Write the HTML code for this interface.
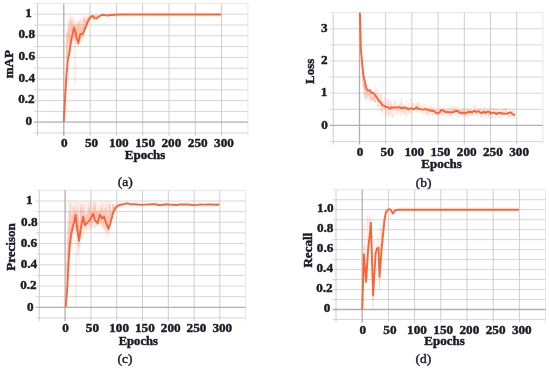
<!DOCTYPE html>
<html><head><meta charset="utf-8"><title>Training curves</title>
<style>
html,body{margin:0;padding:0;background:#fff;}
body{width:550px;height:369px;overflow:hidden;}
svg{display:block;filter:blur(0.3px);}
</style></head>
<body>
<svg width="550" height="369" viewBox="0 0 550 369">
<rect width="550" height="369" fill="#fff"/>
<line x1="34.00" y1="133.00" x2="247.90" y2="133.00" stroke="#d6d6d6" stroke-width="1"/>
<line x1="34.00" y1="111.40" x2="247.90" y2="111.40" stroke="#d6d6d6" stroke-width="1"/>
<line x1="34.00" y1="100.60" x2="247.90" y2="100.60" stroke="#d6d6d6" stroke-width="1"/>
<line x1="34.00" y1="89.80" x2="247.90" y2="89.80" stroke="#d6d6d6" stroke-width="1"/>
<line x1="34.00" y1="79.00" x2="247.90" y2="79.00" stroke="#d6d6d6" stroke-width="1"/>
<line x1="34.00" y1="68.20" x2="247.90" y2="68.20" stroke="#d6d6d6" stroke-width="1"/>
<line x1="34.00" y1="57.40" x2="247.90" y2="57.40" stroke="#d6d6d6" stroke-width="1"/>
<line x1="34.00" y1="46.60" x2="247.90" y2="46.60" stroke="#d6d6d6" stroke-width="1"/>
<line x1="34.00" y1="35.80" x2="247.90" y2="35.80" stroke="#d6d6d6" stroke-width="1"/>
<line x1="34.00" y1="25.00" x2="247.90" y2="25.00" stroke="#d6d6d6" stroke-width="1"/>
<line x1="34.00" y1="14.20" x2="247.90" y2="14.20" stroke="#d6d6d6" stroke-width="1"/>
<line x1="34.00" y1="3.40" x2="247.90" y2="3.40" stroke="#e6e6e6" stroke-width="1"/>
<line x1="37.50" y1="3.40" x2="37.50" y2="136.00" stroke="#cecece" stroke-width="1"/>
<line x1="90.10" y1="3.40" x2="90.10" y2="136.00" stroke="#cecece" stroke-width="1"/>
<line x1="116.40" y1="3.40" x2="116.40" y2="136.00" stroke="#cecece" stroke-width="1"/>
<line x1="142.70" y1="3.40" x2="142.70" y2="136.00" stroke="#cecece" stroke-width="1"/>
<line x1="169.00" y1="3.40" x2="169.00" y2="136.00" stroke="#cecece" stroke-width="1"/>
<line x1="195.30" y1="3.40" x2="195.30" y2="136.00" stroke="#cecece" stroke-width="1"/>
<line x1="221.60" y1="3.40" x2="221.60" y2="136.00" stroke="#cecece" stroke-width="1"/>
<line x1="247.90" y1="3.40" x2="247.90" y2="136.00" stroke="#e6e6e6" stroke-width="1"/>
<line x1="34.00" y1="122.20" x2="247.90" y2="122.20" stroke="#b0b0b0" stroke-width="1.3"/>
<line x1="63.80" y1="3.40" x2="63.80" y2="136.00" stroke="#b0b0b0" stroke-width="1.3"/>
<polygon points="66.0,36.0 68.5,17.0 69.0,16.0 73.3,16.0 73.8,20.5 79.2,20.5 80.0,19.0 85.0,15.5 95.0,14.8 101.0,14.8 101.0,17.0 92.0,19.0 88.0,24.0 86.0,30.0 84.0,36.0 80.0,44.0 78.0,48.0 76.0,46.0 74.0,40.0 73.3,42.0 72.0,45.0 70.0,50.0 69.0,56.0 68.0,60.0 66.0,75.0" fill="rgba(249,140,110,0.12)" stroke="none"/>
<polyline points="63.8,121.9 64.1,117.0 64.3,112.1 64.6,107.2 64.9,102.2 65.1,97.4 65.4,79.4 65.6,98.2 65.9,77.7 66.2,69.6 66.4,32.8 66.7,61.5 67.0,31.6 67.2,57.5 67.5,31.1 67.7,59.3 68.0,27.2 68.3,43.2 68.5,25.7 68.8,43.3 69.1,21.9 69.3,53.0 69.6,20.0 69.8,41.6 70.1,26.6 70.4,48.6 70.6,18.0 70.9,41.0 71.2,19.9 71.4,34.4 71.7,19.8 72.0,33.0 72.2,23.8 72.5,33.8 72.7,22.8 73.0,31.4 73.3,17.4 73.5,40.3 73.8,28.3 74.1,38.3 74.3,20.8 74.6,37.6 74.8,24.2 75.1,40.2 75.4,25.7 75.6,40.7 75.9,27.9 76.2,39.4 76.4,25.4 76.7,36.0 77.0,24.3 77.2,36.0 77.5,22.2 77.7,35.6 78.0,24.6 78.3,45.5 78.5,22.2 78.8,35.2 79.1,21.6 79.3,38.9 79.6,23.0 79.8,41.9 80.1,20.8 80.4,36.9 80.6,26.3 80.9,41.5 81.2,19.7 81.4,30.8 81.7,27.2 81.9,32.0 82.2,23.3 82.5,37.6 82.7,23.9 83.0,30.7 83.3,17.9 83.5,36.5 83.8,19.8 84.1,35.4 84.3,18.4 84.6,31.5 84.8,16.6 85.1,25.1 85.4,19.1 85.6,24.1 85.9,20.1 86.2,29.0 86.4,17.8 86.7,27.8 86.9,19.6 87.2,24.4 87.5,17.1 87.7,24.1 88.0,19.0 88.3,20.4 88.5,17.8 88.8,19.7 89.0,15.6 89.3,21.1 89.6,16.8 89.8,20.2 90.1,16.1 90.4,19.5 90.6,16.2 90.9,18.9 91.2,15.2 91.4,18.7 91.7,16.2 91.9,17.8 92.2,16.4 92.5,18.4 92.7,15.0 93.0,17.9 93.3,15.7 93.5,18.6 93.8,15.9 94.0,17.6 94.3,16.5 94.6,17.4 94.8,15.4 95.1,18.2 95.4,15.4 95.6,17.5 95.9,15.3 96.1,17.6 96.4,15.2 96.7,16.9 96.9,16.2 97.2,17.8 97.5,15.2 97.7,16.5 98.0,15.8 98.3,17.0 98.5,15.3 98.8,17.1 99.0,15.6 99.3,17.0 99.6,15.5 99.8,16.6 100.1,15.6 100.4,16.7 100.6,15.0 100.9,17.0 101.1,15.3 101.4,15.4 101.7,14.7 101.9,14.5 102.2,15.4 102.5,14.5 102.7,14.5 103.0,14.8 103.2,15.2 103.5,14.5 103.8,14.5 104.0,14.5 104.3,15.4 104.6,14.8 104.8,15.6 105.1,14.5 105.4,14.9 105.6,15.5 105.9,15.9 106.1,15.3 106.4,15.0 106.7,14.9 106.9,15.6 107.2,15.1 107.5,16.0 107.7,16.0 108.0,14.9 108.2,15.0 108.5,15.8 108.8,15.5 109.0,15.7 109.3,14.9 109.6,14.5 109.8,14.7 110.1,15.5 110.4,14.6 110.6,14.7 110.9,14.8 111.1,14.8 111.4,14.8 111.7,15.6 111.9,14.5 112.2,14.5 112.5,15.6 112.7,15.5 113.0,15.6 113.2,14.8 113.5,15.6 113.8,15.5 114.0,14.5 114.3,15.2 114.6,15.3 114.8,15.0 115.1,14.8 115.3,14.5 115.6,14.5 115.9,14.5 116.1,14.5 116.4,14.8 116.7,14.5 116.9,15.2 117.2,14.5 117.5,15.3 117.7,14.9 118.0,15.3 118.2,15.2 118.5,15.2 118.8,14.7 119.0,14.5 119.3,14.9 119.6,14.5 119.8,14.5 120.1,14.8 120.3,14.5 120.6,14.5 120.9,15.2 121.1,14.7 121.4,14.5 121.7,14.5 121.9,15.1 122.2,14.5 122.4,15.0 122.7,14.5 123.0,14.5 123.2,14.6 123.5,15.0 123.8,14.5 124.0,15.0 124.3,15.2 124.6,15.0 124.8,15.0 125.1,14.5 125.3,14.7 125.6,15.1 125.9,14.5 126.1,14.5 126.4,14.5 126.7,14.5 126.9,14.5 127.2,14.5 127.4,14.9 127.7,14.5 128.0,14.5 128.2,14.5 128.5,14.5 128.8,14.5 129.0,15.3 129.3,15.1 129.6,14.5 129.8,14.5 130.1,14.5 130.3,14.5 130.6,14.5 130.9,14.7 131.1,14.6 131.4,14.5 131.7,14.5 131.9,14.5 132.2,14.5 132.4,14.6 132.7,14.8 133.0,14.5 133.2,14.5 133.5,14.5 133.8,14.5 134.0,14.7 134.3,15.0 134.5,14.5 134.8,15.0 135.1,14.7 135.3,14.5 135.6,14.5 135.9,14.5 136.1,14.8 136.4,14.5 136.7,14.8 136.9,14.5 137.2,14.5 137.4,14.6 137.7,14.8 138.0,14.5 138.2,14.5 138.5,14.5 138.8,15.1 139.0,15.2 139.3,14.5 139.5,15.1 139.8,15.0 140.1,14.5 140.3,14.5 140.6,14.5 140.9,15.0 141.1,14.8 141.4,15.1 141.6,15.0 141.9,14.8 142.2,14.9 142.4,14.6 142.7,14.5 143.0,14.6 143.2,14.5 143.5,14.5 143.8,14.9 144.0,14.5 144.3,14.5 144.5,14.5 144.8,15.1 145.1,14.5 145.3,14.5 145.6,15.0 145.9,14.5 146.1,15.1 146.4,14.8 146.6,15.0 146.9,15.2 147.2,14.6 147.4,15.0 147.7,14.5 148.0,14.9 148.2,14.5 148.5,14.8 148.7,14.5 149.0,14.9 149.3,15.2 149.5,14.5 149.8,14.5 150.1,14.6 150.3,15.0 150.6,14.5 150.9,14.5 151.1,14.5 151.4,14.7 151.6,14.9 151.9,14.5 152.2,14.5 152.4,14.5 152.7,14.5 153.0,14.5 153.2,14.5 153.5,14.5 153.7,15.3 154.0,14.5 154.3,14.9 154.5,14.5 154.8,14.8 155.1,14.9 155.3,14.8 155.6,14.5 155.8,14.5 156.1,14.7 156.4,15.1 156.6,14.5 156.9,14.5 157.2,14.9 157.4,15.2 157.7,14.5 158.0,14.5 158.2,14.9 158.5,14.5 158.7,14.5 159.0,14.5 159.3,14.6 159.5,14.5 159.8,14.5 160.1,14.8 160.3,15.2 160.6,14.5 160.8,14.8 161.1,14.5 161.4,15.1 161.6,14.6 161.9,14.5 162.2,14.5 162.4,14.5 162.7,14.5 163.0,14.5 163.2,14.5 163.5,14.5 163.7,14.5 164.0,14.9 164.3,14.5 164.5,15.3 164.8,14.5 165.1,14.7 165.3,14.5 165.6,15.0 165.8,15.0 166.1,14.6 166.4,14.5 166.6,14.9 166.9,15.1 167.2,14.5 167.4,14.9 167.7,15.2 167.9,14.5 168.2,14.5 168.5,14.5 168.7,14.8 169.0,14.8 169.3,15.2 169.5,15.1 169.8,14.5 170.1,14.5 170.3,14.5 170.6,14.5 170.8,14.8 171.1,15.1 171.4,15.1 171.6,14.5 171.9,15.1 172.2,14.5 172.4,14.5 172.7,14.9 172.9,14.5 173.2,14.5 173.5,15.0 173.7,14.5 174.0,14.5 174.3,14.6 174.5,14.8 174.8,14.5 175.0,14.5 175.3,14.5 175.6,14.5 175.8,14.5 176.1,14.6 176.4,15.2 176.6,14.5 176.9,14.6 177.2,14.5 177.4,14.5 177.7,14.8 177.9,14.5 178.2,15.1 178.5,15.2 178.7,14.5 179.0,15.2 179.3,14.5 179.5,14.9 179.8,14.9 180.0,14.5 180.3,14.8 180.6,14.7 180.8,15.0 181.1,14.5 181.4,14.9 181.6,15.2 181.9,14.8 182.2,14.6 182.4,14.5 182.7,14.5 182.9,14.5 183.2,14.8 183.5,14.8 183.7,14.6 184.0,14.5 184.3,14.7 184.5,14.7 184.8,14.5 185.0,15.1 185.3,14.7 185.6,14.5 185.8,15.2 186.1,14.5 186.4,14.5 186.6,14.9 186.9,14.7 187.1,14.6 187.4,14.7 187.7,14.5 187.9,14.5 188.2,14.5 188.5,14.5 188.7,14.8 189.0,14.9 189.3,14.6 189.5,14.9 189.8,14.5 190.0,14.5 190.3,14.5 190.6,15.1 190.8,14.5 191.1,14.5 191.4,14.5 191.6,14.9 191.9,14.5 192.1,14.5 192.4,14.5 192.7,14.6 192.9,14.9 193.2,14.5 193.5,15.1 193.7,14.5 194.0,14.5 194.2,14.5 194.5,14.5 194.8,14.9 195.0,14.9 195.3,14.5 195.6,14.5 195.8,14.5 196.1,14.9 196.4,15.0 196.6,14.9 196.9,14.6 197.1,14.5 197.4,14.5 197.7,14.5 197.9,14.5 198.2,14.6 198.5,14.5 198.7,14.5 199.0,15.0 199.2,14.5 199.5,15.0 199.8,15.1 200.0,15.2 200.3,14.5 200.6,14.6 200.8,14.6 201.1,14.7 201.3,15.3 201.6,14.8 201.9,14.5 202.1,15.1 202.4,14.5 202.7,14.7 202.9,14.9 203.2,14.5 203.5,14.9 203.7,14.8 204.0,14.5 204.2,14.5 204.5,14.5 204.8,14.5 205.0,14.5 205.3,14.5 205.6,14.5 205.8,14.7 206.1,14.5 206.3,14.6 206.6,15.2 206.9,15.1 207.1,14.5 207.4,15.0 207.7,14.7 207.9,14.5 208.2,14.5 208.4,14.5 208.7,14.5 209.0,14.6 209.2,15.2 209.5,14.5 209.8,15.1 210.0,14.8 210.3,14.5 210.6,15.1 210.8,14.7 211.1,15.2 211.3,14.8 211.6,14.9 211.9,14.5 212.1,15.0 212.4,15.2 212.7,15.1 212.9,14.5 213.2,14.9 213.4,14.5 213.7,14.5 214.0,14.5 214.2,14.5 214.5,14.5 214.8,14.5 215.0,14.5 215.3,14.8 215.6,14.6 215.8,14.5 216.1,14.7 216.3,14.5 216.6,14.5 216.9,14.9 217.1,14.5 217.4,14.5 217.7,15.1 217.9,14.9 218.2,14.5 218.4,14.5 218.7,14.5 219.0,14.7 219.2,14.5 219.5,14.5 219.8,14.5 220.0,15.0 220.3,14.5 220.5,14.5 220.8,14.5 221.1,14.5" fill="none" stroke="rgba(249,120,90,0.11)" stroke-width="1" stroke-linejoin="round"/>
<line x1="75.2" y1="30" x2="75.2" y2="85" stroke="rgba(249,120,90,0.2)" stroke-width="1.3"/>
<polyline points="63.8,121.9 65.1,97.6 66.5,74.6 67.8,60.5 69.2,53.8 70.4,45.0 72.0,36.6 74.0,27.4 75.3,31.2 76.4,36.6 78.3,43.2 80.2,34.4 81.3,33.9 82.4,34.4 84.0,31.2 86.2,25.7 88.4,20.3 90.5,17.0 92.7,15.9 94.4,18.1 96.5,18.6 98.2,17.0 101.4,15.0 104.2,14.8 106.9,15.6 110.2,15.0 114.5,14.8 120.0,14.5 221.1,14.5" fill="none" stroke="#fd6433" stroke-width="1.9" stroke-linejoin="round" stroke-linecap="butt"/>
<g font-family="'Liberation Serif', 'Times New Roman', serif" font-weight="bold" font-size="13.2" fill="#1c1c28" stroke="#1c1c28" stroke-width="0.45"><text x="31.8" y="16.8" text-anchor="end">1</text><text x="35" y="38.4" text-anchor="end">0.8</text><text x="35" y="60.0" text-anchor="end">0.6</text><text x="35" y="81.6" text-anchor="end">0.4</text><text x="34.7" y="103.2" text-anchor="end">0.2</text><text x="32.1" y="124.8" text-anchor="end">0</text><text x="64.3" y="147.2" text-anchor="middle">0</text><text x="91.6" y="147.2" text-anchor="middle">50</text><text x="118.8" y="147.2" text-anchor="middle">100</text><text x="145.1" y="147.2" text-anchor="middle">150</text><text x="171.4" y="147.2" text-anchor="middle">200</text><text x="197.7" y="147.2" text-anchor="middle">250</text><text x="224.0" y="147.2" text-anchor="middle">300</text></g>
<text x="145.1" y="159.2" text-anchor="middle" font-family="'Liberation Serif', 'Times New Roman', serif" font-weight="bold" font-size="13" fill="#1c1c28" stroke="#1c1c28" stroke-width="0.45">Epochs</text>
<text transform="translate(13.3,64.2) rotate(-90)" x="0" y="0" text-anchor="middle" font-family="'Liberation Serif', 'Times New Roman', serif" font-weight="bold" font-size="13" fill="#1c1c28" stroke="#1c1c28" stroke-width="0.45">mAP</text>
<text x="125.3" y="185.9" text-anchor="middle" font-family="'Liberation Serif', 'Times New Roman', serif" font-size="13.5" fill="#1c1c28" stroke="#1c1c28" stroke-width="0.45">(a)</text>
<line x1="329.80" y1="141.50" x2="542.90" y2="141.50" stroke="#d6d6d6" stroke-width="1"/>
<line x1="329.80" y1="109.30" x2="542.90" y2="109.30" stroke="#d6d6d6" stroke-width="1"/>
<line x1="329.80" y1="93.20" x2="542.90" y2="93.20" stroke="#d6d6d6" stroke-width="1"/>
<line x1="329.80" y1="77.10" x2="542.90" y2="77.10" stroke="#d6d6d6" stroke-width="1"/>
<line x1="329.80" y1="61.00" x2="542.90" y2="61.00" stroke="#d6d6d6" stroke-width="1"/>
<line x1="329.80" y1="44.90" x2="542.90" y2="44.90" stroke="#d6d6d6" stroke-width="1"/>
<line x1="329.80" y1="28.80" x2="542.90" y2="28.80" stroke="#d6d6d6" stroke-width="1"/>
<line x1="329.80" y1="12.70" x2="542.90" y2="12.70" stroke="#e6e6e6" stroke-width="1"/>
<line x1="333.30" y1="12.70" x2="333.30" y2="144.50" stroke="#cecece" stroke-width="1"/>
<line x1="385.70" y1="12.70" x2="385.70" y2="144.50" stroke="#cecece" stroke-width="1"/>
<line x1="411.90" y1="12.70" x2="411.90" y2="144.50" stroke="#cecece" stroke-width="1"/>
<line x1="438.10" y1="12.70" x2="438.10" y2="144.50" stroke="#cecece" stroke-width="1"/>
<line x1="464.30" y1="12.70" x2="464.30" y2="144.50" stroke="#cecece" stroke-width="1"/>
<line x1="490.50" y1="12.70" x2="490.50" y2="144.50" stroke="#cecece" stroke-width="1"/>
<line x1="516.70" y1="12.70" x2="516.70" y2="144.50" stroke="#cecece" stroke-width="1"/>
<line x1="542.90" y1="12.70" x2="542.90" y2="144.50" stroke="#e6e6e6" stroke-width="1"/>
<line x1="329.80" y1="125.40" x2="542.90" y2="125.40" stroke="#b0b0b0" stroke-width="1.3"/>
<line x1="359.50" y1="12.70" x2="359.50" y2="144.50" stroke="#b0b0b0" stroke-width="1.3"/>
<polygon points="361.0,55.0 362.0,64.0 363.5,74.0 365.0,82.0 367.0,88.0 369.0,90.0 372.0,93.0 375.0,95.0 375.0,103.0 372.0,102.0 369.0,101.0 367.0,100.0 365.0,100.0 363.5,95.0 362.0,80.0 361.0,62.0" fill="rgba(249,140,110,0.10)" stroke="none"/>
<polyline points="359.5,12.8 359.8,12.8 360.0,17.4 360.3,27.2 360.5,36.9 360.8,46.7 361.1,59.0 361.3,65.9 361.6,60.7 361.9,73.1 362.1,65.5 362.4,82.9 362.6,72.6 362.9,86.9 363.2,75.9 363.4,88.9 363.7,84.2 364.0,94.6 364.2,84.2 364.5,90.4 364.7,82.6 365.0,98.7 365.3,84.4 365.5,99.0 365.8,87.1 366.1,99.2 366.3,92.3 366.6,94.8 366.8,92.0 367.1,98.9 367.4,88.5 367.6,95.7 367.9,92.6 368.1,95.6 368.4,91.8 368.7,97.4 368.9,93.9 369.2,96.5 369.5,91.9 369.7,96.7 370.0,91.5 370.2,100.0 370.5,94.4 370.8,100.9 371.0,95.7 371.3,101.5 371.6,95.5 371.8,99.5 372.1,97.1 372.3,99.4 372.6,96.0 372.9,101.1 373.1,94.5 373.4,100.6 373.6,96.7 373.9,100.8 374.2,95.5 374.4,102.6 374.7,94.9 375.0,102.9 375.2,100.5 375.5,102.7 375.7,86.5 376.0,102.3 376.3,94.2 376.5,98.8 376.8,87.7 377.1,88.8 377.3,91.9 377.6,107.7 377.8,92.8 378.1,104.4 378.4,108.2 378.6,108.8 378.9,97.1 379.1,97.7 379.4,101.4 379.7,106.8 379.9,93.7 380.2,106.9 380.5,108.2 380.7,109.7 381.0,93.5 381.2,112.0 381.5,95.1 381.8,100.4 382.0,106.0 382.3,112.5 382.6,101.2 382.8,113.1 383.1,105.8 383.3,101.4 383.6,101.7 383.9,99.2 384.1,97.4 384.4,99.0 384.7,109.9 384.9,116.2 385.2,99.6 385.4,97.5 385.7,116.4 386.0,107.5 386.2,105.1 386.5,101.8 386.7,109.1 387.0,113.9 387.3,106.6 387.5,106.0 387.8,98.8 388.1,116.1 388.3,98.6 388.6,107.9 388.8,115.0 389.1,100.9 389.4,113.0 389.6,117.3 389.9,110.9 390.2,113.9 390.4,100.3 390.7,106.7 390.9,101.0 391.2,114.8 391.5,103.8 391.7,106.9 392.0,117.7 392.2,114.7 392.5,117.1 392.8,106.6 393.0,107.3 393.3,112.1 393.6,107.2 393.8,103.4 394.1,105.7 394.3,100.6 394.6,105.2 394.9,117.5 395.1,117.0 395.4,110.3 395.7,107.8 395.9,104.6 396.2,99.7 396.4,103.3 396.7,113.5 397.0,115.1 397.2,105.0 397.5,113.4 397.8,113.1 398.0,111.5 398.3,110.8 398.5,112.7 398.8,104.7 399.1,111.5 399.3,102.9 399.6,107.0 399.8,112.6 400.1,111.1 400.4,103.2 400.6,116.3 400.9,110.4 401.2,109.1 401.4,97.7 401.7,108.5 401.9,102.6 402.2,111.1 402.5,107.0 402.7,114.1 403.0,110.8 403.3,113.8 403.5,104.8 403.8,110.5 404.0,112.2 404.3,113.8 404.6,104.1 404.8,113.8 405.1,114.2 405.4,110.8 405.6,116.7 405.9,116.4 406.1,107.8 406.4,108.1 406.7,101.0 406.9,114.6 407.2,116.7 407.4,107.7 407.7,112.1 408.0,112.8 408.2,113.2 408.5,102.0 408.8,114.2 409.0,110.2 409.3,111.9 409.5,107.0 409.8,111.1 410.1,114.1 410.3,111.3 410.6,113.0 410.9,99.2 411.1,101.8 411.4,107.4 411.6,111.6 411.9,105.2 412.2,110.7 412.4,110.0 412.7,102.9 412.9,108.0 413.2,105.0 413.5,102.9 413.7,103.8 414.0,106.0 414.3,104.3 414.5,104.4 414.8,102.5 415.0,107.6 415.3,106.6 415.6,109.3 415.8,109.0 416.1,104.8 416.4,112.8 416.6,102.0 416.9,106.9 417.1,105.4 417.4,107.0 417.7,103.5 417.9,112.1 418.2,106.6 418.4,102.6 418.7,109.6 419.0,103.4 419.2,108.8 419.5,106.4 419.8,109.3 420.0,113.8 420.3,112.2 420.5,107.4 420.8,112.2 421.1,110.2 421.3,106.9 421.6,104.2 421.9,109.7 422.1,109.3 422.4,114.1 422.6,114.2 422.9,110.0 423.2,107.0 423.4,113.5 423.7,102.9 424.0,104.2 424.2,109.7 424.5,110.4 424.7,104.8 425.0,110.7 425.3,113.9 425.5,107.7 425.8,108.5 426.0,106.1 426.3,106.9 426.6,115.1 426.8,108.1 427.1,115.1 427.4,114.6 427.6,110.8 427.9,106.8 428.1,115.5 428.4,109.8 428.7,108.9 428.9,107.7 429.2,115.8 429.5,109.9 429.7,107.5 430.0,109.8 430.2,105.6 430.5,111.7 430.8,109.6 431.0,107.8 431.3,113.8 431.6,114.4 431.8,104.6 432.1,110.9 432.3,107.9 432.6,115.9 432.9,114.1 433.1,107.7 433.4,108.0 433.6,106.8 433.9,116.9 434.2,108.7 434.4,112.6 434.7,111.1 435.0,113.3 435.2,113.0 435.5,114.8 435.7,107.4 436.0,115.2 436.3,109.8 436.5,112.8 436.8,110.5 437.1,110.2 437.3,113.1 437.6,112.5 437.8,111.3 438.1,115.7 438.4,113.7 438.6,106.9 438.9,109.3 439.1,111.6 439.4,116.9 439.7,116.4 439.9,112.1 440.2,105.6 440.5,114.5 440.7,110.2 441.0,111.8 441.2,113.2 441.5,112.1 441.8,110.1 442.0,115.1 442.3,108.9 442.6,109.1 442.8,114.8 443.1,107.1 443.3,108.5 443.6,115.1 443.9,106.1 444.1,115.5 444.4,113.9 444.6,111.0 444.9,109.4 445.2,115.5 445.4,117.2 445.7,108.2 446.0,112.4 446.2,113.4 446.5,113.0 446.7,110.9 447.0,108.7 447.3,113.8 447.5,116.4 447.8,107.4 448.1,109.3 448.3,116.3 448.6,115.8 448.8,114.2 449.1,106.5 449.4,114.8 449.6,117.7 449.9,117.9 450.2,114.3 450.4,106.3 450.7,115.8 450.9,108.2 451.2,113.3 451.5,117.0 451.7,114.1 452.0,107.2 452.2,109.1 452.5,116.6 452.8,107.4 453.0,112.9 453.3,110.6 453.6,107.5 453.8,113.1 454.1,106.1 454.3,106.9 454.6,110.2 454.9,106.5 455.1,106.3 455.4,112.5 455.7,114.5 455.9,116.1 456.2,107.2 456.4,110.8 456.7,109.4 457.0,112.8 457.2,111.5 457.5,116.9 457.8,110.2 458.0,106.5 458.3,114.2 458.5,107.8 458.8,113.6 459.1,112.2 459.3,117.1 459.6,113.0 459.8,113.8 460.1,109.6 460.4,113.2 460.6,109.7 460.9,115.7 461.2,113.0 461.4,108.5 461.7,109.8 461.9,111.4 462.2,115.8 462.5,109.1 462.7,115.5 463.0,114.7 463.3,107.9 463.5,114.8 463.8,107.9 464.0,108.3 464.3,113.9 464.6,109.6 464.8,117.2 465.1,112.4 465.3,110.5 465.6,116.1 465.9,106.9 466.1,115.2 466.4,107.1 466.7,108.3 466.9,117.9 467.2,114.6 467.4,109.1 467.7,107.8 468.0,118.0 468.2,114.3 468.5,116.1 468.8,107.9 469.0,113.7 469.3,110.4 469.5,108.9 469.8,110.0 470.1,113.4 470.3,110.1 470.6,110.5 470.9,107.5 471.1,115.8 471.4,113.6 471.6,115.4 471.9,110.9 472.2,115.9 472.4,111.8 472.7,112.7 472.9,112.4 473.2,114.4 473.5,110.2 473.7,106.6 474.0,105.7 474.3,107.7 474.5,105.7 474.8,115.9 475.0,111.0 475.3,114.4 475.6,105.3 475.8,111.0 476.1,116.1 476.4,112.9 476.6,110.6 476.9,111.1 477.1,106.8 477.4,107.5 477.7,107.6 477.9,110.2 478.2,110.4 478.4,116.4 478.7,107.7 479.0,108.9 479.2,109.3 479.5,107.9 479.8,109.5 480.0,108.9 480.3,111.9 480.5,106.5 480.8,117.3 481.1,110.7 481.3,117.5 481.6,114.6 481.9,114.4 482.1,112.0 482.4,117.6 482.6,107.7 482.9,114.3 483.2,109.8 483.4,114.4 483.7,115.1 483.9,108.3 484.2,108.7 484.5,106.6 484.7,109.1 485.0,107.2 485.3,111.1 485.5,118.0 485.8,110.7 486.0,110.0 486.3,111.9 486.6,109.7 486.8,115.1 487.1,114.9 487.4,108.3 487.6,109.2 487.9,114.4 488.1,117.6 488.4,114.2 488.7,111.6 488.9,118.2 489.2,106.7 489.5,107.4 489.7,116.1 490.0,111.7 490.2,107.4 490.5,113.5 490.8,118.9 491.0,113.3 491.3,111.3 491.5,108.3 491.8,108.1 492.1,118.1 492.3,113.3 492.6,118.6 492.9,108.0 493.1,110.3 493.4,107.9 493.6,112.1 493.9,108.0 494.2,110.4 494.4,112.2 494.7,110.9 495.0,107.9 495.2,107.7 495.5,118.9 495.7,109.3 496.0,113.3 496.3,112.0 496.5,113.5 496.8,108.1 497.0,110.9 497.3,108.4 497.6,113.6 497.8,118.1 498.1,114.2 498.4,117.3 498.6,109.6 498.9,107.2 499.1,113.5 499.4,112.9 499.7,113.9 499.9,111.6 500.2,114.6 500.5,115.8 500.7,118.1 501.0,110.8 501.2,112.5 501.5,117.1 501.8,109.9 502.0,108.6 502.3,110.9 502.6,108.3 502.8,116.5 503.1,117.1 503.3,111.0 503.6,108.8 503.9,108.3 504.1,110.3 504.4,108.3 504.6,112.5 504.9,114.3 505.2,110.3 505.4,108.1 505.7,115.8 506.0,107.9 506.2,109.7 506.5,110.7 506.7,111.8 507.0,108.4 507.3,112.3 507.5,111.0 507.8,116.2 508.1,113.8 508.3,117.9 508.6,115.0 508.8,116.2 509.1,114.0 509.4,112.3 509.6,116.8 509.9,114.9 510.1,118.6 510.4,115.9 510.7,115.7 510.9,110.6 511.2,117.2 511.5,112.2 511.7,109.2 512.0,108.5 512.2,109.9 512.5,111.1 512.8,116.1 513.0,111.5 513.3,109.0 513.6,117.5 513.8,115.1 514.1,108.8 514.3,109.2 514.6,110.2 514.9,113.0 515.1,119.2" fill="none" stroke="rgba(249,120,90,0.11)" stroke-width="1" stroke-linejoin="round"/>
<polyline points="359.9,12.8 360.9,50.0 362.2,63.0 363.3,74.5 365.0,82.6 366.6,89.0 368.2,90.8 369.9,90.0 371.5,93.2 373.1,92.7 374.8,94.9 377.2,98.1 378.8,100.8 380.1,101.5 381.4,103.7 382.7,105.3 384.0,105.5 385.3,107.0 386.6,106.9 387.9,107.1 389.2,108.1 390.5,108.6 391.8,107.1 393.1,107.8 394.4,107.4 395.7,107.2 397.0,107.7 398.3,107.3 399.6,107.2 400.9,108.1 402.2,108.4 403.5,107.3 404.8,107.8 406.1,107.6 407.4,108.9 408.7,109.2 410.0,108.6 411.3,108.2 412.6,109.2 413.9,109.1 415.2,108.2 416.5,107.3 417.8,108.7 419.1,108.7 420.4,109.1 421.7,109.4 423.0,109.6 424.3,109.4 425.6,109.1 426.9,109.6 428.2,109.8 429.5,110.5 430.8,110.5 432.1,111.1 433.4,110.8 434.7,111.6 436.0,112.9 437.3,113.3 438.6,113.2 439.9,111.9 441.2,110.0 442.5,110.2 443.8,110.8 445.1,111.6 446.4,112.3 447.7,111.9 449.0,112.2 450.3,112.3 451.6,112.3 452.9,112.4 454.2,111.7 455.5,110.7 456.8,111.0 458.1,111.0 459.4,112.9 460.7,112.3 462.0,113.4 463.3,112.8 464.6,112.8 465.9,113.2 467.2,112.7 468.5,111.5 469.8,112.3 471.1,111.6 472.4,112.5 473.7,111.0 475.0,110.8 476.3,112.2 477.6,111.5 478.9,111.1 480.2,112.6 481.5,113.1 482.8,112.3 484.1,111.7 485.4,113.0 486.7,112.0 488.0,111.8 489.3,111.8 490.6,113.7 491.9,112.8 493.2,112.7 494.5,113.0 495.8,113.5 497.1,114.0 498.4,112.5 499.7,113.3 501.0,112.7 502.3,113.9 503.6,113.3 504.9,113.7 506.2,113.9 507.5,113.3 508.8,113.0 510.1,112.2 511.4,113.0 512.7,114.3 514.0,114.9 515.3,114.9" fill="none" stroke="#fd6433" stroke-width="1.9" stroke-linejoin="round" stroke-linecap="butt"/>
<g font-family="'Liberation Serif', 'Times New Roman', serif" font-weight="bold" font-size="13.2" fill="#1c1c28" stroke="#1c1c28" stroke-width="0.45"><text x="327.6" y="32.0" text-anchor="end">3</text><text x="327.6" y="64.2" text-anchor="end">2</text><text x="327.4" y="96.4" text-anchor="end">1</text><text x="327.8" y="128.6" text-anchor="end">0</text><text x="360.0" y="156.1" text-anchor="middle">0</text><text x="387.2" y="156.1" text-anchor="middle">50</text><text x="414.3" y="156.1" text-anchor="middle">100</text><text x="440.5" y="156.1" text-anchor="middle">150</text><text x="466.7" y="156.1" text-anchor="middle">200</text><text x="492.9" y="156.1" text-anchor="middle">250</text><text x="519.1" y="156.1" text-anchor="middle">300</text></g>
<text x="441.6" y="167.6" text-anchor="middle" font-family="'Liberation Serif', 'Times New Roman', serif" font-weight="bold" font-size="13" fill="#1c1c28" stroke="#1c1c28" stroke-width="0.45">Epochs</text>
<text transform="translate(313.7,71.4) rotate(-90)" x="0" y="0" text-anchor="middle" font-family="'Liberation Serif', 'Times New Roman', serif" font-weight="bold" font-size="13" fill="#1c1c28" stroke="#1c1c28" stroke-width="0.45">Loss</text>
<text x="423.6" y="186.5" text-anchor="middle" font-family="'Liberation Serif', 'Times New Roman', serif" font-size="13.5" fill="#1c1c28" stroke="#1c1c28" stroke-width="0.45">(b)</text>
<line x1="35.80" y1="317.93" x2="245.70" y2="317.93" stroke="#d6d6d6" stroke-width="1"/>
<line x1="35.80" y1="296.67" x2="245.70" y2="296.67" stroke="#d6d6d6" stroke-width="1"/>
<line x1="35.80" y1="286.04" x2="245.70" y2="286.04" stroke="#d6d6d6" stroke-width="1"/>
<line x1="35.80" y1="275.41" x2="245.70" y2="275.41" stroke="#d6d6d6" stroke-width="1"/>
<line x1="35.80" y1="264.78" x2="245.70" y2="264.78" stroke="#d6d6d6" stroke-width="1"/>
<line x1="35.80" y1="254.15" x2="245.70" y2="254.15" stroke="#d6d6d6" stroke-width="1"/>
<line x1="35.80" y1="243.52" x2="245.70" y2="243.52" stroke="#d6d6d6" stroke-width="1"/>
<line x1="35.80" y1="232.89" x2="245.70" y2="232.89" stroke="#d6d6d6" stroke-width="1"/>
<line x1="35.80" y1="222.26" x2="245.70" y2="222.26" stroke="#d6d6d6" stroke-width="1"/>
<line x1="35.80" y1="211.63" x2="245.70" y2="211.63" stroke="#d6d6d6" stroke-width="1"/>
<line x1="35.80" y1="201.00" x2="245.70" y2="201.00" stroke="#d6d6d6" stroke-width="1"/>
<line x1="35.80" y1="190.37" x2="245.70" y2="190.37" stroke="#e6e6e6" stroke-width="1"/>
<line x1="39.30" y1="190.37" x2="39.30" y2="320.93" stroke="#cecece" stroke-width="1"/>
<line x1="90.90" y1="190.37" x2="90.90" y2="320.93" stroke="#cecece" stroke-width="1"/>
<line x1="116.70" y1="190.37" x2="116.70" y2="320.93" stroke="#cecece" stroke-width="1"/>
<line x1="142.50" y1="190.37" x2="142.50" y2="320.93" stroke="#cecece" stroke-width="1"/>
<line x1="168.30" y1="190.37" x2="168.30" y2="320.93" stroke="#cecece" stroke-width="1"/>
<line x1="194.10" y1="190.37" x2="194.10" y2="320.93" stroke="#cecece" stroke-width="1"/>
<line x1="219.90" y1="190.37" x2="219.90" y2="320.93" stroke="#cecece" stroke-width="1"/>
<line x1="245.70" y1="190.37" x2="245.70" y2="320.93" stroke="#e6e6e6" stroke-width="1"/>
<line x1="35.80" y1="307.30" x2="245.70" y2="307.30" stroke="#b0b0b0" stroke-width="1.3"/>
<line x1="65.10" y1="190.37" x2="65.10" y2="320.93" stroke="#b0b0b0" stroke-width="1.3"/>
<polygon points="66.5,240.0 67.5,203.0 69.0,201.5 110.0,201.5 112.0,203.0 116.0,206.0 116.0,208.0 113.0,215.0 110.0,232.0 108.0,240.0 105.0,232.0 100.0,225.0 95.0,228.0 90.0,230.0 85.0,232.0 81.0,240.0 79.0,266.0 77.0,245.0 75.0,230.0 73.0,232.0 71.0,250.0 69.0,262.0 68.0,280.0 66.5,300.0" fill="rgba(249,140,110,0.12)" stroke="none"/>
<polyline points="65.1,307.2 65.4,307.2 65.6,307.2 65.9,305.1 66.1,302.0 66.4,298.9 66.6,261.4 66.9,278.7 67.2,248.2 67.4,271.7 67.7,236.9 67.9,277.6 68.2,221.5 68.5,245.9 68.7,227.6 69.0,256.4 69.2,211.4 69.5,234.5 69.7,212.2 70.0,246.3 70.3,202.1 70.5,251.8 70.8,204.7 71.0,243.4 71.3,219.2 71.5,242.7 71.8,214.3 72.1,226.1 72.3,215.0 72.6,226.8 72.8,206.7 73.1,226.8 73.4,207.6 73.6,230.5 73.9,214.0 74.1,228.1 74.4,205.7 74.6,224.8 74.9,210.3 75.2,223.4 75.4,209.3 75.7,230.6 75.9,204.8 76.2,227.2 76.5,214.9 76.7,232.1 77.0,210.7 77.2,229.3 77.5,207.4 77.7,246.1 78.0,202.0 78.3,255.2 78.5,217.1 78.8,242.5 79.0,226.0 79.3,248.9 79.5,226.3 79.8,239.3 80.1,206.9 80.3,236.6 80.6,204.0 80.8,236.4 81.1,206.8 81.4,229.2 81.6,208.5 81.9,230.7 82.1,204.1 82.4,222.0 82.6,209.8 82.9,225.8 83.2,215.9 83.4,224.5 83.7,206.8 83.9,219.5 84.2,204.1 84.4,229.1 84.7,210.1 85.0,222.9 85.2,214.9 85.5,225.5 85.7,212.8 86.0,230.0 86.3,214.2 86.5,221.1 86.8,213.2 87.0,227.9 87.3,209.6 87.5,219.4 87.8,213.7 88.1,224.9 88.3,207.4 88.6,219.0 88.8,203.9 89.1,219.1 89.4,210.8 89.6,224.8 89.9,209.7 90.1,218.6 90.4,202.0 90.6,227.8 90.9,211.9 91.2,226.6 91.4,211.1 91.7,223.3 91.9,206.6 92.2,225.9 92.4,213.8 92.7,223.7 93.0,209.3 93.2,221.8 93.5,202.1 93.7,220.1 94.0,207.4 94.3,220.9 94.5,205.4 94.8,227.4 95.0,202.7 95.3,218.6 95.5,203.0 95.8,218.2 96.1,208.6 96.3,222.6 96.6,211.8 96.8,219.6 97.1,212.2 97.3,225.8 97.6,210.4 97.9,224.5 98.1,208.8 98.4,225.4 98.6,212.4 98.9,224.0 99.2,211.2 99.4,221.4 99.7,211.9 99.9,215.8 100.2,205.6 100.4,224.0 100.7,209.7 101.0,222.5 101.2,208.7 101.5,225.7 101.7,203.3 102.0,216.0 102.3,207.9 102.5,222.6 102.8,212.8 103.0,228.0 103.3,209.8 103.5,226.6 103.8,203.7 104.1,228.6 104.3,214.5 104.6,218.6 104.8,207.9 105.1,230.2 105.3,208.0 105.6,233.2 105.9,208.5 106.1,220.2 106.4,203.6 106.6,225.4 106.9,213.3 107.2,231.8 107.4,215.3 107.7,226.1 107.9,209.6 108.2,226.0 108.4,212.6 108.7,233.6 109.0,204.4 109.2,220.2 109.5,203.7 109.7,221.6 110.0,204.0 110.2,221.0 110.5,211.4 110.8,221.7 111.0,209.2 111.3,224.4 111.5,211.7 111.8,219.4 112.1,208.8 112.3,214.0 112.6,203.7 112.8,213.5 113.1,204.1 113.3,209.7 113.6,204.4 113.9,211.6 114.1,207.3 114.4,211.1 114.6,207.2 114.9,210.1 115.2,206.1 115.4,207.8 115.7,206.0 115.9,207.7 116.2,207.9 116.4,208.6 116.7,204.2 117.0,207.5 117.2,208.8 117.5,207.9 117.7,207.6 118.0,205.8 118.2,203.8 118.5,207.3 118.8,204.4 119.0,207.1 119.3,207.9 119.5,204.3 119.8,204.2 120.1,207.4 120.3,206.1 120.6,202.7 120.8,202.4 121.1,202.5 121.3,207.0 121.6,206.4 121.9,204.1 122.1,204.8 122.4,205.0 122.6,204.5 122.9,204.1 123.2,204.3 123.4,203.8 123.7,203.6 123.9,204.7 124.2,204.2 124.4,204.0 124.7,204.5 125.0,203.8 125.2,204.3 125.5,204.1 125.7,203.3 126.0,203.3 126.2,203.3 126.5,203.2 126.8,203.6 127.0,203.1 127.3,203.2 127.5,202.9 127.8,203.9 128.1,203.4 128.3,203.6 128.6,203.8 128.8,204.3 129.1,203.8 129.3,204.5 129.6,204.1 129.9,204.2 130.1,204.2 130.4,203.6 130.6,204.1 130.9,203.8 131.1,203.6 131.4,204.6 131.7,203.9 131.9,204.2 132.2,204.5 132.4,204.3 132.7,204.1 133.0,204.3 133.2,204.4 133.5,204.7 133.7,203.8 134.0,204.4 134.2,204.0 134.5,204.1 134.8,204.7 135.0,204.4 135.3,204.4 135.5,204.7 135.8,204.9 136.1,204.3 136.3,204.5 136.6,204.4 136.8,204.4 137.1,204.6 137.3,204.3 137.6,204.4 137.9,204.4 138.1,204.9 138.4,204.6 138.6,204.9 138.9,204.9 139.1,204.1 139.4,204.5 139.7,204.9 139.9,204.8 140.2,204.0 140.4,204.0 140.7,204.4 141.0,203.9 141.2,204.1 141.5,203.9 141.7,204.6 142.0,204.8 142.2,204.9 142.5,204.0 142.8,204.7 143.0,204.6 143.3,204.0 143.5,204.9 143.8,205.0 144.0,204.1 144.3,205.0 144.6,204.3 144.8,204.4 145.1,205.0 145.3,204.8 145.6,204.0 145.9,204.4 146.1,204.5 146.4,204.3 146.6,204.1 146.9,204.2 147.1,204.7 147.4,203.9 147.7,204.5 147.9,204.4 148.2,203.9 148.4,204.3 148.7,204.6 148.9,204.5 149.2,203.9 149.5,205.0 149.7,204.8 150.0,205.0 150.2,204.0 150.5,204.2 150.8,203.9 151.0,204.8 151.3,204.2 151.5,204.0 151.8,204.4 152.0,205.0 152.3,204.9 152.6,204.2 152.8,204.1 153.1,205.0 153.3,204.6 153.6,204.7 153.9,204.0 154.1,204.0 154.4,204.7 154.6,204.4 154.9,204.0 155.1,205.0 155.4,204.7 155.7,204.9 155.9,204.0 156.2,204.9 156.4,204.0 156.7,204.9 156.9,204.4 157.2,204.3 157.5,204.6 157.7,205.0 158.0,204.2 158.2,204.1 158.5,204.5 158.8,204.2 159.0,204.0 159.3,204.1 159.5,204.0 159.8,204.2 160.0,204.3 160.3,204.3 160.6,204.8 160.8,204.3 161.1,204.5 161.3,204.1 161.6,204.3 161.8,203.9 162.1,204.2 162.4,203.9 162.6,204.8 162.9,204.6 163.1,204.2 163.4,204.5 163.7,205.1 163.9,204.1 164.2,204.9 164.4,204.5 164.7,204.5 164.9,204.9 165.2,204.4 165.5,204.5 165.7,204.8 166.0,205.1 166.2,204.4 166.5,204.9 166.8,204.8 167.0,204.7 167.3,204.4 167.5,204.4 167.8,204.0 168.0,204.1 168.3,204.0 168.6,204.8 168.8,204.3 169.1,204.2 169.3,204.1 169.6,205.0 169.8,205.0 170.1,204.8 170.4,204.3 170.6,204.3 170.9,204.3 171.1,204.5 171.4,204.2 171.7,204.5 171.9,204.3 172.2,205.1 172.4,205.1 172.7,204.6 172.9,204.3 173.2,205.1 173.5,204.4 173.7,204.4 174.0,204.0 174.2,204.4 174.5,204.6 174.8,204.6 175.0,204.2 175.3,204.6 175.5,204.0 175.8,204.3 176.0,204.1 176.3,204.5 176.6,204.0 176.8,204.0 177.1,204.4 177.3,204.3 177.6,204.7 177.8,204.6 178.1,204.9 178.4,204.8 178.6,204.9 178.9,205.1 179.1,204.5 179.4,204.4 179.7,205.2 179.9,204.2 180.2,204.9 180.4,204.8 180.7,204.1 180.9,205.0 181.2,205.1 181.5,204.8 181.7,204.9 182.0,205.0 182.2,204.2 182.5,204.7 182.7,204.6 183.0,205.0 183.3,205.0 183.5,205.0 183.8,204.7 184.0,205.1 184.3,204.9 184.6,204.9 184.8,204.3 185.1,204.1 185.3,204.2 185.6,204.5 185.8,204.2 186.1,205.0 186.4,204.7 186.6,204.8 186.9,204.8 187.1,204.9 187.4,204.6 187.6,204.1 187.9,205.0 188.2,204.9 188.4,204.7 188.7,204.7 188.9,204.8 189.2,204.1 189.5,204.9 189.7,204.4 190.0,204.1 190.2,204.4 190.5,204.9 190.7,204.3 191.0,205.0 191.3,205.2 191.5,204.7 191.8,204.5 192.0,204.6 192.3,204.9 192.6,205.0 192.8,204.8 193.1,204.8 193.3,204.2 193.6,204.3 193.8,204.4 194.1,205.0 194.4,204.4 194.6,204.8 194.9,204.1 195.1,204.2 195.4,204.4 195.6,204.9 195.9,204.9 196.2,204.9 196.4,204.4 196.7,204.7 196.9,204.7 197.2,204.7 197.5,204.2 197.7,205.2 198.0,204.3 198.2,205.3 198.5,205.2 198.7,204.1 199.0,204.7 199.3,205.1 199.5,205.3 199.8,204.6 200.0,204.4 200.3,204.4 200.6,205.2 200.8,204.4 201.1,204.8 201.3,204.3 201.6,204.7 201.8,205.3 202.1,204.3 202.4,205.1 202.6,204.7 202.9,205.2 203.1,205.0 203.4,204.4 203.6,205.2 203.9,204.7 204.2,204.2 204.4,204.1 204.7,204.7 204.9,204.7 205.2,204.5 205.5,204.3 205.7,204.5 206.0,204.5 206.2,205.1 206.5,204.1 206.7,205.0 207.0,205.1 207.3,204.3 207.5,205.3 207.8,205.0 208.0,205.2 208.3,204.5 208.5,204.6 208.8,204.6 209.1,205.3 209.3,204.9 209.6,204.6 209.8,204.7 210.1,204.5 210.4,204.2 210.6,204.3 210.9,205.2 211.1,204.5 211.4,205.3 211.6,204.5 211.9,204.5 212.2,204.8 212.4,204.4 212.7,204.6 212.9,205.3 213.2,205.2 213.4,205.1 213.7,204.9 214.0,205.3 214.2,205.3 214.5,204.8 214.7,205.0 215.0,204.2 215.3,205.1 215.5,204.7 215.8,205.1 216.0,205.0 216.3,204.5 216.5,204.2 216.8,205.3 217.1,204.3 217.3,204.8 217.6,204.6 217.8,204.6 218.1,205.1 218.4,205.4 218.6,204.5 218.9,205.0 219.1,204.6" fill="none" stroke="rgba(249,120,90,0.11)" stroke-width="1" stroke-linejoin="round"/>
<line x1="76.1" y1="240" x2="76.1" y2="307" stroke="rgba(249,120,90,0.2)" stroke-width="1.3"/>
<polyline points="65.7,307.2 67.2,289.2 68.5,264.6 69.5,246.9 71.0,235.5 72.9,226.0 74.2,222.3 75.6,214.7 77.1,228.0 79.0,240.9 80.9,228.0 83.1,216.6 85.0,225.1 86.9,223.2 89.4,220.4 91.3,217.5 93.2,213.7 95.1,220.4 97.6,223.2 99.8,214.7 102.1,218.5 104.0,216.6 106.5,224.2 108.4,228.9 110.3,223.2 113.1,212.8 116.0,207.1 119.8,204.8 123.6,204.2 127.4,203.3 130.0,204.2 134.5,204.1 138.0,204.5 141.5,204.9 145.0,204.6 148.5,204.4 152.0,204.3 155.5,204.2 159.0,205.0 162.5,204.8 166.0,204.3 169.5,204.6 173.0,204.8 176.5,205.0 180.0,204.4 183.5,204.5 187.0,204.4 190.5,204.7 194.0,205.1 197.5,204.9 201.0,204.4 204.5,204.6 208.0,204.4 211.5,204.5 215.0,204.8 218.5,204.5 219.2,204.8" fill="none" stroke="#fd6433" stroke-width="1.9" stroke-linejoin="round" stroke-linecap="butt"/>
<g font-family="'Liberation Serif', 'Times New Roman', serif" font-weight="bold" font-size="13.2" fill="#1c1c28" stroke="#1c1c28" stroke-width="0.45"><text x="32.6" y="204.2" text-anchor="end">1</text><text x="37.6" y="225.5" text-anchor="end">0.8</text><text x="37.2" y="246.7" text-anchor="end">0.6</text><text x="37.2" y="268.0" text-anchor="end">0.4</text><text x="36.7" y="289.2" text-anchor="end">0.2</text><text x="33.6" y="310.5" text-anchor="end">0</text><text x="65.6" y="332.0" text-anchor="middle">0</text><text x="92.4" y="332.0" text-anchor="middle">50</text><text x="119.1" y="332.0" text-anchor="middle">100</text><text x="144.9" y="332.0" text-anchor="middle">150</text><text x="170.7" y="332.0" text-anchor="middle">200</text><text x="196.5" y="332.0" text-anchor="middle">250</text><text x="222.3" y="332.0" text-anchor="middle">300</text></g>
<text x="138.3" y="345.2" text-anchor="middle" font-family="'Liberation Serif', 'Times New Roman', serif" font-weight="bold" font-size="12.6" fill="#1c1c28" stroke="#1c1c28" stroke-width="0.45">Epochs</text>
<text transform="translate(15.2,247) rotate(-90)" x="0" y="0" text-anchor="middle" font-family="'Liberation Serif', 'Times New Roman', serif" font-weight="bold" font-size="13" fill="#1c1c28" stroke="#1c1c28" stroke-width="0.45">Precison</text>
<text x="125" y="363" text-anchor="middle" font-family="'Liberation Serif', 'Times New Roman', serif" font-size="13.5" fill="#1c1c28" stroke="#1c1c28" stroke-width="0.45">(c)</text>
<line x1="332.50" y1="319.48" x2="545.60" y2="319.48" stroke="#d6d6d6" stroke-width="1"/>
<line x1="332.50" y1="299.52" x2="545.60" y2="299.52" stroke="#d6d6d6" stroke-width="1"/>
<line x1="332.50" y1="289.54" x2="545.60" y2="289.54" stroke="#d6d6d6" stroke-width="1"/>
<line x1="332.50" y1="279.56" x2="545.60" y2="279.56" stroke="#d6d6d6" stroke-width="1"/>
<line x1="332.50" y1="269.58" x2="545.60" y2="269.58" stroke="#d6d6d6" stroke-width="1"/>
<line x1="332.50" y1="259.60" x2="545.60" y2="259.60" stroke="#d6d6d6" stroke-width="1"/>
<line x1="332.50" y1="249.62" x2="545.60" y2="249.62" stroke="#d6d6d6" stroke-width="1"/>
<line x1="332.50" y1="239.64" x2="545.60" y2="239.64" stroke="#d6d6d6" stroke-width="1"/>
<line x1="332.50" y1="229.66" x2="545.60" y2="229.66" stroke="#d6d6d6" stroke-width="1"/>
<line x1="332.50" y1="219.68" x2="545.60" y2="219.68" stroke="#d6d6d6" stroke-width="1"/>
<line x1="332.50" y1="209.70" x2="545.60" y2="209.70" stroke="#d6d6d6" stroke-width="1"/>
<line x1="332.50" y1="199.72" x2="545.60" y2="199.72" stroke="#d6d6d6" stroke-width="1"/>
<line x1="332.50" y1="189.74" x2="545.60" y2="189.74" stroke="#e6e6e6" stroke-width="1"/>
<line x1="336.00" y1="189.74" x2="336.00" y2="322.48" stroke="#cecece" stroke-width="1"/>
<line x1="388.40" y1="189.74" x2="388.40" y2="322.48" stroke="#cecece" stroke-width="1"/>
<line x1="414.60" y1="189.74" x2="414.60" y2="322.48" stroke="#cecece" stroke-width="1"/>
<line x1="440.80" y1="189.74" x2="440.80" y2="322.48" stroke="#cecece" stroke-width="1"/>
<line x1="467.00" y1="189.74" x2="467.00" y2="322.48" stroke="#cecece" stroke-width="1"/>
<line x1="493.20" y1="189.74" x2="493.20" y2="322.48" stroke="#cecece" stroke-width="1"/>
<line x1="519.40" y1="189.74" x2="519.40" y2="322.48" stroke="#cecece" stroke-width="1"/>
<line x1="545.60" y1="189.74" x2="545.60" y2="322.48" stroke="#e6e6e6" stroke-width="1"/>
<line x1="332.50" y1="309.50" x2="545.60" y2="309.50" stroke="#b0b0b0" stroke-width="1.3"/>
<line x1="362.20" y1="189.74" x2="362.20" y2="322.48" stroke="#b0b0b0" stroke-width="1.3"/>
<polyline points="362.2,309.7 362.7,292.6 363.2,265.4 363.8,268.6 364.3,245.4 364.8,265.9 365.3,283.5 365.9,267.2 366.4,278.8 366.9,272.2 367.4,247.7 368.0,248.8 368.5,251.9 369.0,239.8 369.5,242.3 370.1,221.3 370.6,218.4 371.1,218.7 371.6,247.1 372.2,276.1 372.7,284.1 373.2,301.3 373.7,281.6 374.3,282.9 374.8,256.1 375.3,252.6 375.8,257.4 376.3,256.9 376.9,246.4 377.4,236.7 377.9,241.5 378.4,239.6 379.0,255.2 379.5,285.3 380.0,261.5 380.5,273.7 381.1,266.5 381.6,236.6 382.1,240.4 382.6,238.3 383.2,219.8 383.7,225.8 384.2,234.0 384.7,209.5 385.3,218.6 385.8,212.9 386.3,211.8 386.8,211.4 387.4,210.3 387.9,209.5 388.4,209.5 388.9,209.5 389.4,209.5 390.0,209.5 390.5,209.5 391.0,210.5 391.5,211.1 392.1,212.1 392.6,213.3 393.1,212.8 393.6,212.5 394.2,211.4 394.7,211.0 395.2,210.6 395.7,209.8 396.3,210.1 396.8,210.1 397.3,209.6 397.8,209.6 398.4,210.2 398.9,210.2 399.4,209.5 399.9,210.0 400.5,210.2 401.0,209.6 401.5,209.9 402.0,209.5 402.5,209.7 403.1,209.9 403.6,209.9 404.1,210.0 404.6,209.5 405.2,209.7 405.7,210.1 406.2,209.9 406.7,209.8 407.3,209.7 407.8,210.2 408.3,209.9 408.8,209.5 409.4,210.0 409.9,209.7 410.4,209.7 410.9,209.6 411.5,209.7 412.0,209.6 412.5,209.5 413.0,209.9 413.6,209.5 414.1,210.0 414.6,209.5 415.1,210.0 415.6,210.0 416.2,209.8 416.7,210.0 417.2,209.6 417.7,210.0 418.3,209.7 418.8,209.6 419.3,210.2 419.8,209.7 420.4,209.7 420.9,210.1 421.4,209.7 421.9,209.9 422.5,209.5 423.0,210.1 423.5,209.6 424.0,209.5 424.6,210.2 425.1,209.5 425.6,210.1 426.1,210.2 426.7,209.9 427.2,209.5 427.7,209.5 428.2,209.5 428.7,209.7 429.3,209.9 429.8,210.1 430.3,209.7 430.8,209.5 431.4,209.8 431.9,209.5 432.4,209.5 432.9,209.8 433.5,209.9 434.0,209.5 434.5,209.7 435.0,209.9 435.6,210.0 436.1,209.7 436.6,210.1 437.1,209.5 437.7,209.9 438.2,210.0 438.7,210.1 439.2,209.8 439.8,209.5 440.3,209.5 440.8,209.8 441.3,209.5 441.8,209.9 442.4,209.5 442.9,210.0 443.4,209.5 443.9,209.5 444.5,209.5 445.0,209.7 445.5,209.8 446.0,209.7 446.6,209.5 447.1,209.7 447.6,210.1 448.1,209.8 448.7,210.1 449.2,209.5 449.7,210.2 450.2,210.1 450.8,209.8 451.3,209.8 451.8,209.8 452.3,210.1 452.9,209.5 453.4,209.9 453.9,209.8 454.4,209.6 454.9,209.9 455.5,209.9 456.0,209.5 456.5,209.9 457.0,209.7 457.6,209.7 458.1,209.9 458.6,209.5 459.1,209.8 459.7,209.6 460.2,210.1 460.7,209.5 461.2,210.0 461.8,209.9 462.3,209.8 462.8,210.0 463.3,209.5 463.9,209.8 464.4,209.8 464.9,209.9 465.4,209.7 466.0,209.5 466.5,209.5 467.0,209.8 467.5,209.5 468.0,209.5 468.6,209.6 469.1,209.7 469.6,209.8 470.1,209.5 470.7,210.0 471.2,209.6 471.7,210.0 472.2,209.5 472.8,210.1 473.3,209.8 473.8,210.1 474.3,210.1 474.9,210.0 475.4,209.5 475.9,209.6 476.4,209.5 477.0,210.0 477.5,209.5 478.0,209.5 478.5,209.5 479.1,209.5 479.6,210.1 480.1,210.1 480.6,209.6 481.1,209.9 481.7,209.7 482.2,209.7 482.7,209.6 483.2,209.8 483.8,209.5 484.3,209.5 484.8,209.7 485.3,209.5 485.9,209.7 486.4,210.1 486.9,209.5 487.4,209.5 488.0,210.0 488.5,209.5 489.0,209.5 489.5,210.0 490.1,209.8 490.6,209.5 491.1,209.5 491.6,209.5 492.2,209.6 492.7,210.0 493.2,210.1 493.7,209.9 494.2,210.0 494.8,210.1 495.3,210.0 495.8,210.1 496.3,210.1 496.9,209.5 497.4,209.6 497.9,209.5 498.4,209.8 499.0,209.7 499.5,209.6 500.0,210.0 500.5,209.6 501.1,209.5 501.6,209.5 502.1,209.7 502.6,209.8 503.2,209.8 503.7,209.7 504.2,209.5 504.7,209.6 505.3,209.6 505.8,209.5 506.3,209.7 506.8,209.5 507.3,209.9 507.9,209.8 508.4,209.5 508.9,209.8 509.4,209.6 510.0,209.7 510.5,209.8 511.0,209.9 511.5,210.0 512.1,209.9 512.6,209.5 513.1,209.7 513.6,209.6 514.2,209.5 514.7,209.7 515.2,209.7 515.7,210.0 516.3,209.6 516.8,210.0 517.3,209.7 517.8,209.5 518.4,209.9 518.9,209.5" fill="none" stroke="rgba(249,120,90,0.11)" stroke-width="1" stroke-linejoin="round"/>
<line x1="373.1" y1="290" x2="373.1" y2="309.5" stroke="rgba(249,120,90,0.2)" stroke-width="1.3"/>
<line x1="379.6" y1="270" x2="379.6" y2="291" stroke="rgba(249,120,90,0.2)" stroke-width="1.3"/>
<line x1="364.1" y1="223" x2="364.1" y2="250" stroke="rgba(249,120,90,0.2)" stroke-width="1.3"/>
<line x1="367.3" y1="215.6" x2="367.3" y2="250" stroke="rgba(249,120,90,0.2)" stroke-width="1.3"/>
<line x1="369.2" y1="214.8" x2="369.2" y2="228" stroke="rgba(249,120,90,0.2)" stroke-width="1.3"/>
<line x1="380.5" y1="224.6" x2="380.5" y2="250" stroke="rgba(249,120,90,0.2)" stroke-width="1.3"/>
<line x1="382" y1="228" x2="382" y2="245" stroke="rgba(249,120,90,0.2)" stroke-width="1.3"/>
<polyline points="362.2,309.7 363.9,254.2 366.1,281.9 368.1,250.0 370.9,222.7 373.1,295.4 375.6,253.4 376.9,248.5 378.5,247.7 379.5,276.9 381.5,250.0 383.0,234.8 384.5,219.7 386.0,212.1 388.3,209.4 390.6,209.4 392.8,213.6 395.1,210.3 398.0,209.8 518.9,209.7" fill="none" stroke="#fd6433" stroke-width="1.9" stroke-linejoin="round" stroke-linecap="butt"/>
<g font-family="'Liberation Serif', 'Times New Roman', serif" font-weight="bold" font-size="13.2" fill="#1c1c28" stroke="#1c1c28" stroke-width="0.45"><text x="333.6" y="212.4" text-anchor="end">1.0</text><text x="333.4" y="232.4" text-anchor="end">0.8</text><text x="333.3" y="252.3" text-anchor="end">0.6</text><text x="333" y="272.3" text-anchor="end">0.4</text><text x="332.7" y="292.2" text-anchor="end">0.2</text><text x="330.3" y="312.2" text-anchor="end">0</text><text x="362.7" y="334.0" text-anchor="middle">0</text><text x="389.9" y="334.0" text-anchor="middle">50</text><text x="417.0" y="334.0" text-anchor="middle">100</text><text x="443.2" y="334.0" text-anchor="middle">150</text><text x="469.4" y="334.0" text-anchor="middle">200</text><text x="495.6" y="334.0" text-anchor="middle">250</text><text x="521.8" y="334.0" text-anchor="middle">300</text></g>
<text x="444.5" y="345.3" text-anchor="middle" font-family="'Liberation Serif', 'Times New Roman', serif" font-weight="bold" font-size="13" fill="#1c1c28" stroke="#1c1c28" stroke-width="0.45">Epochs</text>
<text transform="translate(312.1,250.2) rotate(-90)" x="0" y="0" text-anchor="middle" font-family="'Liberation Serif', 'Times New Roman', serif" font-weight="bold" font-size="13" fill="#1c1c28" stroke="#1c1c28" stroke-width="0.45">Recall</text>
<text x="423.3" y="363" text-anchor="middle" font-family="'Liberation Serif', 'Times New Roman', serif" font-size="13.5" fill="#1c1c28" stroke="#1c1c28" stroke-width="0.45">(d)</text>
</svg>
</body></html>
